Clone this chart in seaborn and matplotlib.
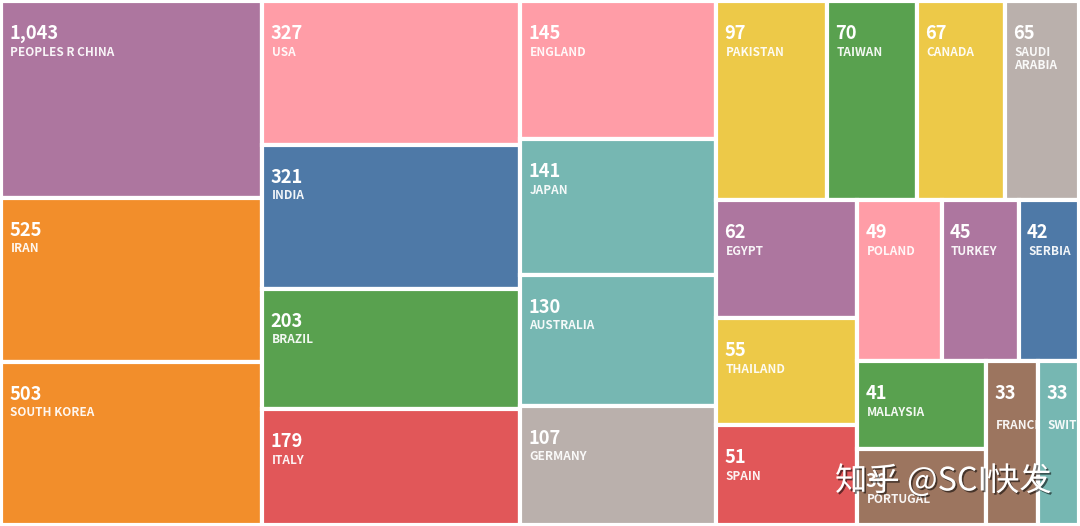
import matplotlib
matplotlib.use('Agg')
import matplotlib.pyplot as plt
import matplotlib.patheffects as pe
import seaborn as sns

countries = ['PEOPLES R CHINA', 'IRAN', 'SOUTH KOREA',
             'USA', 'INDIA', 'BRAZIL', 'ITALY',
             'ENGLAND', 'JAPAN', 'AUSTRALIA', 'GERMANY',
             'PAKISTAN', 'TAIWAN', 'CANADA', 'SAUDI\nARABIA',
             'EGYPT', 'THAILAND', 'SPAIN',
             'POLAND', 'TURKEY', 'SERBIA',
             'MALAYSIA', 'PORTUGAL', '\nFRANCE', '\nSWITZERLAND']
# the number printed on each tile
counts = [1043, 525, 503,
          327, 321, 203, 179,
          145, 141, 130, 107,
          97, 70, 67, 65,
          62, 55, 51,
          49, 45, 42,
          41, 36, 33, 33]
# tile size is not the printed count, so it is read off the picture separately
tile_sizes = [51287, 42804, 42413,
              37023, 37152, 31089, 29670,
              27048, 26558, 25676, 23226,
              22089, 17910, 17412, 14825,
              16638, 15087, 13959,
              13604, 12397, 9740,
              11287, 9739, 8394, 6764]
groups = ['purple', 'orange', 'orange',
          'pink', 'blue', 'green', 'red',
          'pink', 'teal', 'teal', 'gray',
          'yellow', 'green', 'yellow', 'gray',
          'purple', 'yellow', 'red',
          'pink', 'purple', 'blue',
          'green', 'brown', 'brown', 'teal']

group_names = ['blue', 'orange', 'red', 'teal', 'green', 'yellow', 'purple', 'pink', 'brown', 'gray']
tableau = sns.color_palette(['#4E79A7', '#F28E2B', '#E15759', '#76B7B2', '#59A14F',
                             '#EDC948', '#AD769F', '#FF9DA7', '#9C755F', '#BAB0AC'])
colors = dict(zip(group_names, tableau))

# nesting of the treemap: 'h' splits side by side, 'v' splits top to bottom
tree = ('h', [('v', [0, 1, 2]),
              ('v', [3, 4, 5, 6]),
              ('v', [7, 8, 9, 10]),
              ('v', [('h', [11, 12, 13, 14]),
                     ('h', [('v', [15, 16, 17]),
                            ('v', [('h', [18, 19, 20]),
                                   ('h', [('v', [21, 22]), 23, 24])])])])])


def total(node):
    if isinstance(node, int):
        return tile_sizes[node]
    return sum(total(n) for n in node[1])


def layout(node, x0, y0, x1, y1, out):
    if isinstance(node, int):
        out[node] = (x0, y0, x1, y1)
        return
    direction, kids = node
    full = total(node)
    pos = x0 if direction == 'h' else y0
    span = (x1 - x0) if direction == 'h' else (y1 - y0)
    for kid in kids:
        step = span * total(kid) / full
        if direction == 'h':
            layout(kid, pos, y0, pos + step, y1, out)
        else:
            layout(kid, x0, pos, x1, pos + step, out)
        pos += step


sns.set_theme(style='white')
plt.rcParams['font.family'] = ['Noto Sans CJK SC', 'DejaVu Sans']

fig, ax = plt.subplots(figsize=(10.8, 5.26), dpi=100)
fig.subplots_adjust(0, 0, 1, 1)
ax.set_xlim(0, 1080)
ax.set_ylim(526, 0)
ax.axis('off')

rects = {}
layout(tree, 1, 1, 1079, 524.5, rects)

for i, name in enumerate(countries):
    x0, y0, x1, y1 = rects[i]
    bar = ax.bar(x0, y1 - y0, width=x1 - x0, bottom=y0, align='edge',
                 color=colors[groups[i]], edgecolor='white', linewidth=3)[0]
    # long names get cut off at the tile edge
    t1 = ax.text(x0 + 8.5, y0 + 32.5, f'{counts[i]:,}', color='white', fontsize=13.2,
                 fontweight='bold', va='center', ha='left', clip_on=True)
    t2 = ax.text(x0 + 9.5, y0 + 44.5, name, color='white', fontsize=8.5, fontweight='bold',
                 va='top', ha='left', linespacing=1.05, alpha=0.93, clip_on=True)
    t1.set_clip_path(bar)
    t2.set_clip_path(bar)

ax.text(835, 481, '知乎 @SCI快发', color='white', fontsize=23.3, va='center', ha='left',
        path_effects=[pe.withSimplePatchShadow(offset=(1.2, -1.2), shadow_rgbFace='black', alpha=0.55)])

fig.savefig('out.png', dpi=100)
